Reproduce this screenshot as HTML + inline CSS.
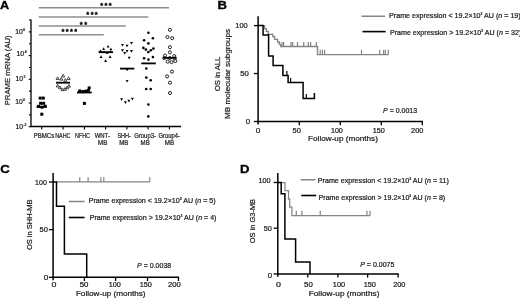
<!DOCTYPE html>
<html lang="en"><head><meta charset="utf-8"><title>PRAME expression figure</title>
<style>
html,body{margin:0;padding:0;background:#fff;}
body{width:520px;height:298px;overflow:hidden;}
svg{display:block;font-family:"Liberation Sans", sans-serif;}
text{stroke:#222;stroke-width:0.22px;paint-order:stroke fill;}
text.bb{stroke:#000;stroke-width:0.3px;}
text.st{stroke:#000;stroke-width:0.35px;}
</style></head><body>
<svg width="520" height="298" viewBox="0 0 520 298" style='font-family:"Liberation Sans", sans-serif'>
<rect x="0" y="0" width="520" height="298" fill="#fff"/>
<text x="0.1" y="9.45" font-size="10.3" textLength="9.1" lengthAdjust="spacingAndGlyphs" font-weight="bold" fill="#000" class="bb">A</text>
<text x="217.4" y="9.1" font-size="10.6" textLength="9.5" lengthAdjust="spacingAndGlyphs" font-weight="bold" fill="#000" class="bb">B</text>
<text x="0.2" y="173.4" font-size="11.6" textLength="9.6" lengthAdjust="spacingAndGlyphs" font-weight="bold" fill="#000" class="bb">C</text>
<text x="239.9" y="172.9" font-size="10.8" textLength="9.5" lengthAdjust="spacingAndGlyphs" font-weight="bold" fill="#000" class="bb">D</text>
<line x1="38.75" y1="7.75" x2="169.1" y2="7.75" stroke="#8e8e8e" stroke-width="1.5"/>
<line x1="38.75" y1="16.9" x2="148.3" y2="16.9" stroke="#8e8e8e" stroke-width="1.5"/>
<line x1="38.75" y1="26" x2="125.9" y2="26" stroke="#8e8e8e" stroke-width="1.5"/>
<line x1="38.75" y1="34.75" x2="103.8" y2="34.75" stroke="#8e8e8e" stroke-width="1.5"/>
<text x="101.6" y="8.1" font-size="7.4" text-anchor="middle" fill="#000" font-weight="bold" class="st">*</text>
<text x="105.9" y="8.1" font-size="7.4" text-anchor="middle" fill="#000" font-weight="bold" class="st">*</text>
<text x="110.1" y="8.1" font-size="7.4" text-anchor="middle" fill="#000" font-weight="bold" class="st">*</text>
<text x="87.75" y="17.35" font-size="7.4" text-anchor="middle" fill="#000" font-weight="bold" class="st">*</text>
<text x="92.1" y="17.35" font-size="7.4" text-anchor="middle" fill="#000" font-weight="bold" class="st">*</text>
<text x="96.3" y="17.35" font-size="7.4" text-anchor="middle" fill="#000" font-weight="bold" class="st">*</text>
<text x="81.25" y="26.85" font-size="7.4" text-anchor="middle" fill="#000" font-weight="bold" class="st">*</text>
<text x="85.6" y="26.85" font-size="7.4" text-anchor="middle" fill="#000" font-weight="bold" class="st">*</text>
<text x="62.9" y="34.35" font-size="7.4" text-anchor="middle" fill="#000" font-weight="bold" class="st">*</text>
<text x="67.1" y="34.35" font-size="7.4" text-anchor="middle" fill="#000" font-weight="bold" class="st">*</text>
<text x="71.4" y="34.35" font-size="7.4" text-anchor="middle" fill="#000" font-weight="bold" class="st">*</text>
<text x="75.6" y="34.35" font-size="7.4" text-anchor="middle" fill="#000" font-weight="bold" class="st">*</text>
<path d="M31.0 19.5 V126.5 H181" stroke="#000" stroke-width="1.3" fill="none"/>
<line x1="29.0" y1="20.049999999999997" x2="31.0" y2="20.049999999999997" stroke="#000" stroke-width="1.1"/>
<line x1="28.7" y1="31.9" x2="31.0" y2="31.9" stroke="#000" stroke-width="1.1"/>
<line x1="29.0" y1="43.75" x2="31.0" y2="43.75" stroke="#000" stroke-width="1.1"/>
<line x1="28.7" y1="55.599999999999994" x2="31.0" y2="55.599999999999994" stroke="#000" stroke-width="1.1"/>
<line x1="29.0" y1="67.44999999999999" x2="31.0" y2="67.44999999999999" stroke="#000" stroke-width="1.1"/>
<line x1="28.7" y1="79.3" x2="31.0" y2="79.3" stroke="#000" stroke-width="1.1"/>
<line x1="29.0" y1="91.15" x2="31.0" y2="91.15" stroke="#000" stroke-width="1.1"/>
<line x1="28.7" y1="103.0" x2="31.0" y2="103.0" stroke="#000" stroke-width="1.1"/>
<line x1="29.0" y1="114.85" x2="31.0" y2="114.85" stroke="#000" stroke-width="1.1"/>
<line x1="28.7" y1="126.69999999999999" x2="31.0" y2="126.69999999999999" stroke="#000" stroke-width="1.1"/>
<line x1="41.75" y1="126.5" x2="41.75" y2="129.4" stroke="#000" stroke-width="1.1"/>
<line x1="63.1" y1="126.5" x2="63.1" y2="129.4" stroke="#000" stroke-width="1.1"/>
<line x1="84.4" y1="126.5" x2="84.4" y2="129.4" stroke="#000" stroke-width="1.1"/>
<line x1="105.6" y1="126.5" x2="105.6" y2="129.4" stroke="#000" stroke-width="1.1"/>
<line x1="126.9" y1="126.5" x2="126.9" y2="129.4" stroke="#000" stroke-width="1.1"/>
<line x1="148.1" y1="126.5" x2="148.1" y2="129.4" stroke="#000" stroke-width="1.1"/>
<line x1="169.4" y1="126.5" x2="169.4" y2="129.4" stroke="#000" stroke-width="1.1"/>
<text x="15.2" y="33.60" font-size="6.8" fill="#1a1a1a">10<tspan font-size="3.4" dy="-3.0" dx="0.5">6</tspan></text>
<text x="16.6" y="56.00" font-size="6.8" fill="#1a1a1a">10<tspan font-size="3.4" dy="-3.0" dx="0.5">4</tspan></text>
<text x="15.5" y="80.50" font-size="6.8" fill="#1a1a1a">10<tspan font-size="3.4" dy="-3.0" dx="0.5">2</tspan></text>
<text x="15.2" y="104.30" font-size="6.8" fill="#1a1a1a">10<tspan font-size="3.4" dy="-3.0" dx="0.5">0</tspan></text>
<text x="15.4" y="128.60" font-size="6.8" fill="#1a1a1a">10<tspan font-size="3.4" dy="-3.0" dx="0.5">-2</tspan></text>
<text x="10.15" y="105.3" font-size="8.0" textLength="70.0" lengthAdjust="spacingAndGlyphs" transform="rotate(-90 10.15 105.3)" fill="#1a1a1a">PRAME mRNA (AU)</text>
<text x="33.7" y="137.7" font-size="6.4" textLength="20.6" lengthAdjust="spacingAndGlyphs" fill="#222">PBMCs</text>
<text x="55.3" y="137.7" font-size="6.4" textLength="15.0" lengthAdjust="spacingAndGlyphs" fill="#222">NAHC</text>
<text x="75.1" y="137.7" font-size="6.4" textLength="14.8" lengthAdjust="spacingAndGlyphs" fill="#222">NFHC</text>
<text x="94.7" y="137.7" font-size="6.4" textLength="15.2" lengthAdjust="spacingAndGlyphs" fill="#222">WNT-</text>
<text x="98.1" y="145.3" font-size="6.4" textLength="9.1" lengthAdjust="spacingAndGlyphs" fill="#222">MB</text>
<text x="117.45" y="137.7" font-size="6.4" textLength="13.45" lengthAdjust="spacingAndGlyphs" fill="#222">SHH-</text>
<text x="119.3" y="145.3" font-size="6.4" textLength="9.1" lengthAdjust="spacingAndGlyphs" fill="#222">MB</text>
<text x="134.3" y="137.7" font-size="6.4" textLength="21.6" lengthAdjust="spacingAndGlyphs" fill="#222">Group3-</text>
<text x="140.6" y="145.3" font-size="6.4" textLength="9.1" lengthAdjust="spacingAndGlyphs" fill="#222">MB</text>
<text x="158.45" y="137.7" font-size="6.4" textLength="21.45" lengthAdjust="spacingAndGlyphs" fill="#222">Group4-</text>
<text x="164.7" y="145.3" font-size="6.4" textLength="9.35" lengthAdjust="spacingAndGlyphs" fill="#222">MB</text>
<rect x="38.70" y="96.60" width="3.0" height="3.0" fill="#000"/>
<rect x="41.80" y="96.60" width="3.0" height="3.0" fill="#000"/>
<rect x="39.10" y="101.80" width="3.0" height="3.0" fill="#000"/>
<rect x="42.10" y="101.80" width="3.0" height="3.0" fill="#000"/>
<rect x="37.00" y="104.90" width="3.0" height="3.0" fill="#000"/>
<rect x="40.50" y="105.70" width="3.0" height="3.0" fill="#000"/>
<rect x="43.70" y="104.70" width="3.0" height="3.0" fill="#000"/>
<rect x="40.30" y="112.70" width="3.0" height="3.0" fill="#000"/>
<line x1="36.5" y1="106.9" x2="46.7" y2="106.9" stroke="#000" stroke-width="1.8"/>
<path d="M56.10 79.55 L59.10 79.55 L57.60 76.85 Z" fill="#fff" stroke="#000" stroke-width="0.7"/>
<path d="M61.60 76.95 L64.60 76.95 L63.10 74.25 Z" fill="#fff" stroke="#000" stroke-width="0.7"/>
<path d="M59.80 80.15 L62.80 80.15 L61.30 77.45 Z" fill="#fff" stroke="#000" stroke-width="0.7"/>
<path d="M63.80 81.25 L66.80 81.25 L65.30 78.55 Z" fill="#fff" stroke="#000" stroke-width="0.7"/>
<path d="M67.10 79.55 L70.10 79.55 L68.60 76.85 Z" fill="#fff" stroke="#000" stroke-width="0.7"/>
<path d="M56.10 86.95 L59.10 86.95 L57.60 84.25 Z" fill="#fff" stroke="#000" stroke-width="0.7"/>
<path d="M58.50 88.75 L61.50 88.75 L60.00 86.05 Z" fill="#fff" stroke="#000" stroke-width="0.7"/>
<path d="M61.00 90.65 L64.00 90.65 L62.50 87.95 Z" fill="#fff" stroke="#000" stroke-width="0.7"/>
<path d="M63.50 90.25 L66.50 90.25 L65.00 87.55 Z" fill="#fff" stroke="#000" stroke-width="0.7"/>
<path d="M65.70 88.75 L68.70 88.75 L67.20 86.05 Z" fill="#fff" stroke="#000" stroke-width="0.7"/>
<path d="M67.50 87.15 L70.50 87.15 L69.00 84.45 Z" fill="#fff" stroke="#000" stroke-width="0.7"/>
<line x1="56" y1="82.7" x2="70.1" y2="82.7" stroke="#000" stroke-width="1.8"/>
<rect x="78.20" y="89.50" width="3.0" height="3.0" fill="#000"/>
<rect x="81.10" y="90.10" width="3.0" height="3.0" fill="#000"/>
<rect x="84.10" y="89.70" width="3.0" height="3.0" fill="#000"/>
<rect x="86.90" y="88.90" width="3.0" height="3.0" fill="#000"/>
<rect x="87.70" y="86.40" width="3.0" height="3.0" fill="#000"/>
<rect x="82.90" y="101.90" width="3.0" height="3.0" fill="#000"/>
<line x1="77" y1="92.5" x2="91.7" y2="92.5" stroke="#000" stroke-width="1.8"/>
<path d="M106.65 47.51 L109.55 47.51 L108.10 44.90 Z" fill="#000"/>
<path d="M102.15 49.91 L105.05 49.91 L103.60 47.30 Z" fill="#000"/>
<path d="M109.45 50.30 L112.35 50.30 L110.90 47.70 Z" fill="#000"/>
<path d="M99.05 52.10 L101.95 52.10 L100.50 49.49 Z" fill="#000"/>
<path d="M102.55 53.10 L105.45 53.10 L104.00 50.49 Z" fill="#000"/>
<path d="M105.55 53.70 L108.45 53.70 L107.00 51.09 Z" fill="#000"/>
<path d="M109.05 52.70 L111.95 52.70 L110.50 50.09 Z" fill="#000"/>
<path d="M99.55 57.91 L102.45 57.91 L101.00 55.30 Z" fill="#000"/>
<path d="M108.65 57.91 L111.55 57.91 L110.10 55.30 Z" fill="#000"/>
<path d="M104.15 61.91 L107.05 61.91 L105.60 59.30 Z" fill="#000"/>
<line x1="98.5" y1="52.2" x2="113.1" y2="52.2" stroke="#000" stroke-width="1.8"/>
<path d="M121.05 43.90 L123.95 43.90 L122.50 46.51 Z" fill="#000"/>
<path d="M125.55 44.70 L128.45 44.70 L127.00 47.30 Z" fill="#000"/>
<path d="M130.05 41.90 L132.95 41.90 L131.50 44.51 Z" fill="#000"/>
<path d="M121.05 49.30 L123.95 49.30 L122.50 51.91 Z" fill="#000"/>
<path d="M123.25 52.09 L126.15 52.09 L124.70 54.70 Z" fill="#000"/>
<path d="M125.55 50.09 L128.45 50.09 L127.00 52.70 Z" fill="#000"/>
<path d="M130.05 50.09 L132.95 50.09 L131.50 52.70 Z" fill="#000"/>
<path d="M127.75 56.80 L130.65 56.80 L129.20 59.41 Z" fill="#000"/>
<path d="M125.65 68.69 L128.55 68.69 L127.10 71.31 Z" fill="#000"/>
<path d="M125.65 79.89 L128.55 79.89 L127.10 82.51 Z" fill="#000"/>
<path d="M120.15 98.29 L123.05 98.29 L121.60 100.91 Z" fill="#000"/>
<path d="M123.95 101.29 L126.85 101.29 L125.40 103.91 Z" fill="#000"/>
<path d="M127.45 99.79 L130.35 99.79 L128.90 102.41 Z" fill="#000"/>
<path d="M130.95 97.79 L133.85 97.79 L132.40 100.41 Z" fill="#000"/>
<line x1="120" y1="68.6" x2="134.3" y2="68.6" stroke="#000" stroke-width="1.8"/>
<circle cx="148.4" cy="32.7" r="1.32" fill="#000"/>
<circle cx="152.9" cy="38.3" r="1.32" fill="#000"/>
<circle cx="144.1" cy="40.3" r="1.32" fill="#000"/>
<circle cx="148.4" cy="43.4" r="1.32" fill="#000"/>
<circle cx="143.4" cy="47.9" r="1.32" fill="#000"/>
<circle cx="145.9" cy="49.6" r="1.32" fill="#000"/>
<circle cx="148.4" cy="52" r="1.32" fill="#000"/>
<circle cx="150.9" cy="50.2" r="1.32" fill="#000"/>
<circle cx="153.4" cy="48.6" r="1.32" fill="#000"/>
<circle cx="144.1" cy="58.3" r="1.32" fill="#000"/>
<circle cx="148.4" cy="59.6" r="1.32" fill="#000"/>
<circle cx="152.9" cy="57.1" r="1.32" fill="#000"/>
<circle cx="146.3" cy="68.5" r="1.32" fill="#000"/>
<circle cx="146.3" cy="77.6" r="1.32" fill="#000"/>
<circle cx="150.7" cy="80.2" r="1.32" fill="#000"/>
<circle cx="146.2" cy="89" r="1.32" fill="#000"/>
<circle cx="150.7" cy="89" r="1.32" fill="#000"/>
<circle cx="148.4" cy="104.5" r="1.32" fill="#000"/>
<circle cx="148.3" cy="116.4" r="1.32" fill="#000"/>
<line x1="141.3" y1="63.4" x2="155.8" y2="63.4" stroke="#000" stroke-width="1.8"/>
<circle cx="169.9" cy="29.8" r="1.55" fill="#fff" stroke="#000" stroke-width="0.85"/>
<circle cx="167.4" cy="37.1" r="1.55" fill="#fff" stroke="#000" stroke-width="0.85"/>
<circle cx="172.2" cy="38.1" r="1.55" fill="#fff" stroke="#000" stroke-width="0.85"/>
<circle cx="169.9" cy="47.2" r="1.55" fill="#fff" stroke="#000" stroke-width="0.85"/>
<circle cx="169.9" cy="52.3" r="1.55" fill="#fff" stroke="#000" stroke-width="0.85"/>
<circle cx="165" cy="55.6" r="1.55" fill="#fff" stroke="#000" stroke-width="0.85"/>
<circle cx="174.3" cy="56.1" r="1.55" fill="#fff" stroke="#000" stroke-width="0.85"/>
<circle cx="164.2" cy="58.1" r="1.55" fill="#fff" stroke="#000" stroke-width="0.85"/>
<circle cx="169.7" cy="58" r="1.55" fill="#fff" stroke="#000" stroke-width="0.85"/>
<circle cx="174.8" cy="58.5" r="1.55" fill="#fff" stroke="#000" stroke-width="0.85"/>
<circle cx="167.7" cy="61.6" r="1.55" fill="#fff" stroke="#000" stroke-width="0.85"/>
<circle cx="171.5" cy="62.1" r="1.55" fill="#fff" stroke="#000" stroke-width="0.85"/>
<circle cx="175.3" cy="61.1" r="1.55" fill="#fff" stroke="#000" stroke-width="0.85"/>
<circle cx="172" cy="71.6" r="1.55" fill="#fff" stroke="#000" stroke-width="0.85"/>
<circle cx="167.1" cy="76.4" r="1.55" fill="#fff" stroke="#000" stroke-width="0.85"/>
<circle cx="170" cy="82.7" r="1.55" fill="#fff" stroke="#000" stroke-width="0.85"/>
<circle cx="170" cy="93" r="1.55" fill="#fff" stroke="#000" stroke-width="0.85"/>
<line x1="163.2" y1="57.9" x2="176.3" y2="57.9" stroke="#000" stroke-width="1.8"/>
<path d="M258.1 16.3 V124.4" stroke="#000" stroke-width="1.5" fill="none"/>
<path d="M257.40000000000003 121.5 H423" stroke="#000" stroke-width="1.5" fill="none"/>
<line x1="253.90000000000003" y1="25.6" x2="258.1" y2="25.6" stroke="#000" stroke-width="1.3"/>
<line x1="253.90000000000003" y1="73.55" x2="258.1" y2="73.55" stroke="#000" stroke-width="1.3"/>
<line x1="253.90000000000003" y1="121.5" x2="258.1" y2="121.5" stroke="#000" stroke-width="1.3"/>
<line x1="299.3" y1="121.5" x2="299.3" y2="125.2" stroke="#000" stroke-width="1.3"/>
<line x1="340.3" y1="121.5" x2="340.3" y2="125.2" stroke="#000" stroke-width="1.3"/>
<line x1="381.3" y1="121.5" x2="381.3" y2="125.2" stroke="#000" stroke-width="1.3"/>
<line x1="422.3" y1="121.5" x2="422.3" y2="125.2" stroke="#000" stroke-width="1.3"/>
<path d="M263.1 25.6 L264.6 25.6 L264.6 28.6 L266.3 28.6 L266.3 31.4 L268.2 31.4 L268.2 34.4 L272.8 34.4 L272.8 36.6 L274.6 36.6 L274.6 39.4 L277.6 39.4 L277.6 42 L279.4 42 L279.4 44.4 L280.8 44.4 L280.8 46.5 L317.5 46.5 L317.5 54.6 L388.6 54.6" stroke="#848484" stroke-width="1.4" fill="none"/>
<line x1="282.0" y1="42.0" x2="282.0" y2="46.5" stroke="#848484" stroke-width="1.25"/>
<line x1="283.6" y1="42.0" x2="283.6" y2="46.5" stroke="#848484" stroke-width="1.25"/>
<line x1="291" y1="42.0" x2="291" y2="46.5" stroke="#848484" stroke-width="1.25"/>
<line x1="292.7" y1="42.0" x2="292.7" y2="46.5" stroke="#848484" stroke-width="1.25"/>
<line x1="297.5" y1="42.0" x2="297.5" y2="46.5" stroke="#848484" stroke-width="1.25"/>
<line x1="303.75" y1="42.0" x2="303.75" y2="46.5" stroke="#848484" stroke-width="1.25"/>
<line x1="308.3" y1="42.0" x2="308.3" y2="46.5" stroke="#848484" stroke-width="1.25"/>
<line x1="310.6" y1="42.0" x2="310.6" y2="46.5" stroke="#848484" stroke-width="1.25"/>
<line x1="316.3" y1="42.0" x2="316.3" y2="46.5" stroke="#848484" stroke-width="1.25"/>
<line x1="320.2" y1="49.7" x2="320.2" y2="54.6" stroke="#848484" stroke-width="1.2"/>
<line x1="322.4" y1="49.7" x2="322.4" y2="54.6" stroke="#848484" stroke-width="1.2"/>
<line x1="324.6" y1="49.7" x2="324.6" y2="54.6" stroke="#848484" stroke-width="1.2"/>
<line x1="361.5" y1="49.7" x2="361.5" y2="54.6" stroke="#848484" stroke-width="1.2"/>
<line x1="379.75" y1="49.7" x2="379.75" y2="54.6" stroke="#848484" stroke-width="1.2"/>
<line x1="383.6" y1="49.7" x2="383.6" y2="54.6" stroke="#848484" stroke-width="1.2"/>
<line x1="385.3" y1="49.7" x2="385.3" y2="54.6" stroke="#848484" stroke-width="1.2"/>
<line x1="388.3" y1="49.7" x2="388.3" y2="54.6" stroke="#848484" stroke-width="1.2"/>
<path d="M258.1 25.6 L263.1 25.6 L263.1 35 L268.6 35 L268.6 56 L273.1 56 L273.1 65.6 L282.9 65.6 L282.9 75.6 L288.1 75.6 L288.1 82.5 L303.1 82.5 L303.1 98.5 L314.4 98.5 L314.4 93" stroke="#000" stroke-width="1.5" fill="none"/>
<line x1="286.9" y1="71.0" x2="286.9" y2="75.6" stroke="#000" stroke-width="1.2"/>
<line x1="290.6" y1="77.9" x2="290.6" y2="82.5" stroke="#000" stroke-width="1.2"/>
<line x1="306.25" y1="93.9" x2="306.25" y2="98.5" stroke="#000" stroke-width="1.2"/>
<line x1="361.5" y1="16.25" x2="385" y2="16.25" stroke="#848484" stroke-width="1.5"/>
<line x1="362.5" y1="31.6" x2="385.6" y2="31.6" stroke="#000" stroke-width="1.6"/>
<text x="389.1" y="17.7" font-size="7.1" fill="#1a1a1a" textLength="131.6" lengthAdjust="spacingAndGlyphs">Prame expression &lt; 19.2×10<tspan font-size="3.4" dy="-3">3</tspan><tspan dy="3"> </tspan>AU (<tspan font-style="italic">n</tspan> = 19)</text>
<text x="389.9" y="34.5" font-size="7.1" fill="#1a1a1a" textLength="131.4" lengthAdjust="spacingAndGlyphs">Prame expression &gt; 19.2×10<tspan font-size="3.4" dy="-3">3</tspan><tspan dy="3"> </tspan>AU (<tspan font-style="italic">n</tspan> = 32)</text>
<text x="235.3" y="27.9" font-size="7" textLength="12.3" lengthAdjust="spacingAndGlyphs" fill="#1a1a1a">100</text>
<text x="240.3" y="76.2" font-size="7" textLength="8.6" lengthAdjust="spacingAndGlyphs" fill="#1a1a1a">50</text>
<text x="245.7" y="123.8" font-size="7" textLength="4.4" lengthAdjust="spacingAndGlyphs" fill="#1a1a1a">0</text>
<text x="255.7" y="132.7" font-size="7" textLength="4.6" lengthAdjust="spacingAndGlyphs" fill="#1a1a1a">0</text>
<text x="292.6" y="132.7" font-size="7" textLength="8.3" lengthAdjust="spacingAndGlyphs" fill="#1a1a1a">50</text>
<text x="331.0" y="132.7" font-size="7" textLength="11.8" lengthAdjust="spacingAndGlyphs" fill="#1a1a1a">100</text>
<text x="372.8" y="132.7" font-size="7" textLength="12.1" lengthAdjust="spacingAndGlyphs" fill="#1a1a1a">150</text>
<text x="411.0" y="132.7" font-size="7" textLength="12.4" lengthAdjust="spacingAndGlyphs" fill="#1a1a1a">200</text>
<text x="308.1" y="141.3" font-size="7.7" textLength="69.8" lengthAdjust="spacingAndGlyphs" fill="#1a1a1a">Follow-up (months)</text>
<text x="383.1" y="112.9" font-size="7" fill="#1a1a1a" textLength="34" lengthAdjust="spacingAndGlyphs"><tspan font-style="italic">P</tspan> = 0.0013</text>
<text x="220.1" y="91.3" font-size="8.0" textLength="34.7" lengthAdjust="spacingAndGlyphs" transform="rotate(-90 220.1 91.3)" fill="#1a1a1a">OS in ALL</text>
<text x="230.1" y="118.9" font-size="8.0" textLength="90.0" lengthAdjust="spacingAndGlyphs" transform="rotate(-90 230.1 118.9)" fill="#1a1a1a">MB molecular subgroups</text>
<path d="M53.1 173.1 V280.2" stroke="#000" stroke-width="1.5" fill="none"/>
<path d="M52.4 277.3 H179" stroke="#000" stroke-width="1.5" fill="none"/>
<line x1="48.9" y1="182" x2="53.1" y2="182" stroke="#000" stroke-width="1.3"/>
<line x1="48.9" y1="229.65" x2="53.1" y2="229.65" stroke="#000" stroke-width="1.3"/>
<line x1="48.9" y1="277.3" x2="53.1" y2="277.3" stroke="#000" stroke-width="1.3"/>
<line x1="84.4" y1="277.3" x2="84.4" y2="281.0" stroke="#000" stroke-width="1.3"/>
<line x1="115.6" y1="277.3" x2="115.6" y2="281.0" stroke="#000" stroke-width="1.3"/>
<line x1="147.5" y1="277.3" x2="147.5" y2="281.0" stroke="#000" stroke-width="1.3"/>
<line x1="178.5" y1="277.3" x2="178.5" y2="281.0" stroke="#000" stroke-width="1.3"/>
<path d="M56.5 181.8 H150" stroke="#848484" stroke-width="1.25" fill="none"/>
<line x1="79.75" y1="177.2" x2="79.75" y2="181.8" stroke="#848484" stroke-width="1.2"/>
<line x1="88.1" y1="177.2" x2="88.1" y2="181.8" stroke="#848484" stroke-width="1.2"/>
<line x1="100.8" y1="177.2" x2="100.8" y2="181.8" stroke="#848484" stroke-width="1.2"/>
<line x1="103.8" y1="177.2" x2="103.8" y2="181.8" stroke="#848484" stroke-width="1.2"/>
<line x1="149.8" y1="177.2" x2="149.8" y2="181.8" stroke="#848484" stroke-width="1.2"/>
<path d="M53.1 182 H56.5 V206.25 H64.4 V254 H86.7 V277.3" stroke="#000" stroke-width="1.5" fill="none"/>
<line x1="68.75" y1="201.5" x2="84.6" y2="201.5" stroke="#848484" stroke-width="1.5"/>
<line x1="68.75" y1="217.5" x2="84.6" y2="217.5" stroke="#000" stroke-width="1.6"/>
<text x="88.7" y="203.2" font-size="7.1" fill="#1a1a1a" textLength="127" lengthAdjust="spacingAndGlyphs">Prame expression &lt; 19.2×10<tspan font-size="3.4" dy="-3">3</tspan><tspan dy="3"> </tspan>AU (<tspan font-style="italic">n</tspan> = 5)</text>
<text x="89.7" y="220.1" font-size="7.1" fill="#1a1a1a" textLength="126.8" lengthAdjust="spacingAndGlyphs">Prame expression &gt; 19.2×10<tspan font-size="3.4" dy="-3">3</tspan><tspan dy="3"> </tspan>AU (<tspan font-style="italic">n</tspan> = 4)</text>
<text x="35.1" y="184.9" font-size="7" textLength="11.7" lengthAdjust="spacingAndGlyphs" fill="#1a1a1a">100</text>
<text x="39.5" y="232.2" font-size="7" textLength="8.3" lengthAdjust="spacingAndGlyphs" fill="#1a1a1a">50</text>
<text x="43.8" y="279.7" font-size="7" textLength="4.6" lengthAdjust="spacingAndGlyphs" fill="#1a1a1a">0</text>
<text x="51.6" y="286.9" font-size="7" textLength="4.9" lengthAdjust="spacingAndGlyphs" fill="#1a1a1a">0</text>
<text x="79.7" y="286.9" font-size="7" textLength="8.7" lengthAdjust="spacingAndGlyphs" fill="#1a1a1a">50</text>
<text x="108.8" y="286.9" font-size="7" textLength="12.1" lengthAdjust="spacingAndGlyphs" fill="#1a1a1a">100</text>
<text x="139.7" y="286.9" font-size="7" textLength="12.2" lengthAdjust="spacingAndGlyphs" fill="#1a1a1a">150</text>
<text x="168.1" y="286.9" font-size="7" textLength="12.8" lengthAdjust="spacingAndGlyphs" fill="#1a1a1a">200</text>
<text x="75.9" y="295.7" font-size="7.7" textLength="69.7" lengthAdjust="spacingAndGlyphs" fill="#1a1a1a">Follow-up (months)</text>
<text x="137.1" y="267.9" font-size="7" fill="#1a1a1a" textLength="34.1" lengthAdjust="spacingAndGlyphs"><tspan font-style="italic">P</tspan> = 0.0038</text>
<text x="31.9" y="250.1" font-size="8.0" textLength="50.6" lengthAdjust="spacingAndGlyphs" transform="rotate(-90 31.9 250.1)" fill="#1a1a1a">OS in SHH-MB</text>
<path d="M277.8 173.1 V276.79999999999995" stroke="#000" stroke-width="1.5" fill="none"/>
<path d="M277.1 273.9 H398.8" stroke="#000" stroke-width="1.5" fill="none"/>
<line x1="273.6" y1="182.5" x2="277.8" y2="182.5" stroke="#000" stroke-width="1.3"/>
<line x1="273.6" y1="228.2" x2="277.8" y2="228.2" stroke="#000" stroke-width="1.3"/>
<line x1="273.6" y1="273.9" x2="277.8" y2="273.9" stroke="#000" stroke-width="1.3"/>
<line x1="307.8" y1="273.9" x2="307.8" y2="277.59999999999997" stroke="#000" stroke-width="1.3"/>
<line x1="337.9" y1="273.9" x2="337.9" y2="277.59999999999997" stroke="#000" stroke-width="1.3"/>
<line x1="367.6" y1="273.9" x2="367.6" y2="277.59999999999997" stroke="#000" stroke-width="1.3"/>
<line x1="398.1" y1="273.9" x2="398.1" y2="277.59999999999997" stroke="#000" stroke-width="1.3"/>
<path d="M281.2 182.5 L285 182.5 L285 190.7 L288.5 190.7 L288.5 199.1 L289.7 199.1 L289.7 207.2 L291.9 207.2 L291.9 215.5 L370.2 215.5" stroke="#848484" stroke-width="1.25" fill="none"/>
<line x1="296.25" y1="210.7" x2="296.25" y2="215.5" stroke="#848484" stroke-width="1.2"/>
<line x1="301.9" y1="210.7" x2="301.9" y2="215.5" stroke="#848484" stroke-width="1.2"/>
<line x1="320.25" y1="210.7" x2="320.25" y2="215.5" stroke="#848484" stroke-width="1.2"/>
<line x1="366.9" y1="210.7" x2="366.9" y2="215.5" stroke="#848484" stroke-width="1.2"/>
<line x1="370.1" y1="210.7" x2="370.1" y2="215.5" stroke="#848484" stroke-width="1.2"/>
<path d="M277.8 182.5 H281.2 V193.75 H284.9 V239 H295.6 V261.9 H310 V273.9" stroke="#000" stroke-width="1.5" fill="none"/>
<line x1="300.6" y1="179.75" x2="315.6" y2="179.75" stroke="#848484" stroke-width="1.5"/>
<line x1="301.25" y1="195.5" x2="316.25" y2="195.5" stroke="#000" stroke-width="1.6"/>
<text x="317.8" y="183.1" font-size="7.1" fill="#1a1a1a" textLength="131.1" lengthAdjust="spacingAndGlyphs">Prame expression &lt; 19.2×10<tspan font-size="3.4" dy="-3">3</tspan><tspan dy="3"> </tspan>AU (<tspan font-style="italic">n</tspan> = 11)</text>
<text x="318.6" y="199.6" font-size="7.1" fill="#1a1a1a" textLength="126.6" lengthAdjust="spacingAndGlyphs">Prame expression &gt; 19.2×10<tspan font-size="3.4" dy="-3">3</tspan><tspan dy="3"> </tspan>AU (<tspan font-style="italic">n</tspan> = 8)</text>
<text x="258.45" y="183.3" font-size="7" textLength="12.25" lengthAdjust="spacingAndGlyphs" fill="#1a1a1a">100</text>
<text x="263.8" y="230.8" font-size="7" textLength="8.1" lengthAdjust="spacingAndGlyphs" fill="#1a1a1a">50</text>
<text x="267.8" y="277.6" font-size="7" textLength="4.4" lengthAdjust="spacingAndGlyphs" fill="#1a1a1a">0</text>
<text x="275.95" y="286.9" font-size="7" textLength="4.95" lengthAdjust="spacingAndGlyphs" fill="#1a1a1a">0</text>
<text x="304.1" y="286.9" font-size="7" textLength="8.7" lengthAdjust="spacingAndGlyphs" fill="#1a1a1a">50</text>
<text x="332.8" y="286.9" font-size="7" textLength="12.25" lengthAdjust="spacingAndGlyphs" fill="#1a1a1a">100</text>
<text x="363.7" y="286.9" font-size="7" textLength="12.2" lengthAdjust="spacingAndGlyphs" fill="#1a1a1a">150</text>
<text x="393.2" y="286.9" font-size="7" textLength="12.1" lengthAdjust="spacingAndGlyphs" fill="#1a1a1a">200</text>
<text x="308.7" y="295.6" font-size="7.7" textLength="70.7" lengthAdjust="spacingAndGlyphs" fill="#1a1a1a">Follow-up (months)</text>
<text x="360.25" y="266.5" font-size="7" fill="#1a1a1a" textLength="34.1" lengthAdjust="spacingAndGlyphs"><tspan font-style="italic">P</tspan> = 0.0075</text>
<text x="255.4" y="243.3" font-size="8.0" textLength="44.4" lengthAdjust="spacingAndGlyphs" transform="rotate(-90 255.4 243.3)" fill="#1a1a1a">OS in G3-MB</text>
</svg>
</body></html>
